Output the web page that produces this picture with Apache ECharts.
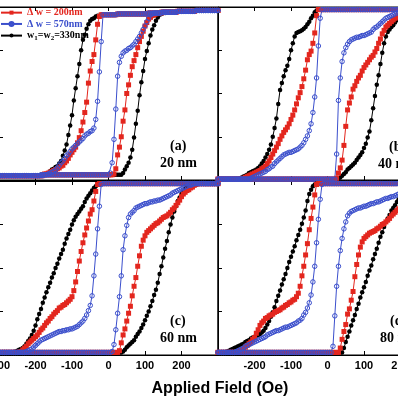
<!DOCTYPE html>
<html>
<head>
<meta charset="utf-8">
<script src="https://cdn.jsdelivr.net/npm/echarts/dist/echarts.min.js"></script>
<style>
html, body { margin: 0; padding: 0; background: #fff; }
#chart { width: 398px; height: 398px; }
</style>
</head>
<body>
<div id="chart"></div>
<script>
// 外加磁场 (Oe)，每 5 Oe 一个测量点
const FIELD = [
  -300,-295,-290,-285,-280,-275,-270,-265,-260,-255,-250,-245,-240,-235,-230,-225,-220,-215,-210,-205,
  -200,-195,-190,-185,-180,-175,-170,-165,-160,-155,-150,-145,-140,-135,-130,-125,-120,-115,-110,-105,
  -100,-95,-90,-85,-80,-75,-70,-65,-60,-55,-50,-45,-40,-35,-30,-25,-20,-15,-10,-5,
  0,5,10,15,20,25,30,35,40,45,50,55,60,65,70,75,80,85,90,95,
  100,105,110,115,120,125,130,135,140,145,150,155,160,165,170,175,180,185,190,195,
  200,205,210,215,220,225,230,235,240,245,250,255,260,265,270,275,280,285,290,295,300
];

const NAMES = ['Δ w = 200nm', 'Δ w = 570nm', 'w1=w2=330nm'];
const PANEL_TAGS = ['(a)', '(b)', '(c)', '(d)'];
const PANEL_THICK = ['20 nm', '40 nm', '60 nm', '80 nm'];

// ---- (a) 20 nm ----
const A_RED_DESC = [
  -0.95,-0.95,-0.95,-0.95,-0.95,-0.95,-0.95,-0.95,-0.95,-0.95,-0.95,-0.95,-0.95,-0.95,-0.95,-0.95,-0.95,-0.95,-0.95,-0.95,
  -0.95,-0.95,-0.95,-0.95,-0.94,-0.93,-0.93,-0.92,-0.91,-0.90,-0.89,-0.88,-0.87,-0.86,-0.84,-0.83,-0.80,-0.78,-0.75,-0.71,
  -0.68,-0.65,-0.62,-0.57,-0.51,-0.43,-0.33,-0.22,-0.10,0.12,0.26,0.37,0.45,0.62,0.80,0.89,0.91,0.91,0.91,0.91,
  0.91,0.91,0.91,0.91,0.91,0.92,0.92,0.92,0.92,0.92,0.92,0.92,0.92,0.92,0.92,0.92,0.92,0.92,0.92,0.92,
  0.92,0.92,0.93,0.93,0.93,0.93,0.93,0.93,0.93,0.93,0.94,0.94,0.94,0.94,0.94,0.94,0.94,0.94,0.95,0.95,
  0.95,0.95,0.95,0.95,0.95,0.95,0.95,0.95,0.96,0.96,0.96,0.96,0.96,0.96,0.96,0.96,0.96,0.96,0.96,0.96,0.96
];
const A_RED_ASC = [
  -0.95,-0.95,-0.95,-0.95,-0.95,-0.95,-0.95,-0.95,-0.95,-0.95,-0.95,-0.95,-0.95,-0.95,-0.95,-0.95,-0.95,-0.95,-0.95,-0.95,
  -0.95,-0.95,-0.95,-0.95,-0.95,-0.94,-0.94,-0.94,-0.94,-0.94,-0.94,-0.94,-0.94,-0.94,-0.94,-0.94,-0.94,-0.94,-0.94,-0.94,
  -0.94,-0.94,-0.94,-0.94,-0.94,-0.94,-0.94,-0.94,-0.94,-0.94,-0.94,-0.94,-0.94,-0.94,-0.94,-0.94,-0.94,-0.94,-0.94,-0.94,
  -0.94,-0.94,-0.94,-0.93,-0.87,-0.71,-0.62,-0.50,-0.32,-0.19,0.00,0.10,0.21,0.31,0.38,0.45,0.53,0.60,0.66,0.72,
  0.78,0.82,0.86,0.88,0.90,0.91,0.92,0.93,0.93,0.94,0.94,0.94,0.94,0.94,0.94,0.94,0.94,0.94,0.95,0.95,
  0.95,0.95,0.95,0.95,0.95,0.95,0.95,0.95,0.96,0.96,0.96,0.96,0.96,0.96,0.96,0.96,0.96,0.96,0.96,0.96,0.96
];
const A_BLUE_DESC = [
  -0.95,-0.95,-0.95,-0.95,-0.95,-0.95,-0.95,-0.95,-0.95,-0.95,-0.95,-0.95,-0.95,-0.95,-0.95,-0.95,-0.95,-0.95,-0.95,-0.95,
  -0.95,-0.95,-0.95,-0.94,-0.94,-0.94,-0.94,-0.93,-0.92,-0.91,-0.90,-0.88,-0.86,-0.83,-0.80,-0.78,-0.75,-0.72,-0.70,-0.67,
  -0.64,-0.62,-0.60,-0.58,-0.56,-0.54,-0.52,-0.49,-0.47,-0.46,-0.44,-0.43,-0.40,-0.30,-0.09,0.25,0.60,0.91,0.91,0.91,
  0.91,0.91,0.91,0.91,0.91,0.92,0.92,0.92,0.92,0.92,0.92,0.92,0.92,0.92,0.92,0.92,0.92,0.92,0.92,0.92,
  0.92,0.92,0.93,0.93,0.93,0.93,0.93,0.93,0.93,0.93,0.94,0.94,0.94,0.94,0.94,0.94,0.94,0.94,0.95,0.95,
  0.95,0.95,0.95,0.95,0.95,0.95,0.95,0.95,0.96,0.96,0.96,0.96,0.96,0.96,0.96,0.96,0.96,0.96,0.96,0.96,0.96
];
const A_BLUE_ASC = [
  -0.95,-0.95,-0.95,-0.95,-0.95,-0.95,-0.95,-0.95,-0.95,-0.95,-0.95,-0.95,-0.95,-0.95,-0.95,-0.95,-0.95,-0.95,-0.95,-0.95,
  -0.95,-0.95,-0.95,-0.95,-0.95,-0.94,-0.94,-0.94,-0.94,-0.94,-0.94,-0.94,-0.94,-0.94,-0.94,-0.94,-0.94,-0.94,-0.94,-0.94,
  -0.94,-0.94,-0.94,-0.94,-0.94,-0.94,-0.94,-0.94,-0.94,-0.94,-0.94,-0.94,-0.94,-0.94,-0.94,-0.94,-0.94,-0.94,-0.94,-0.94,
  -0.94,-0.92,-0.80,-0.53,-0.18,0.20,0.36,0.43,0.47,0.49,0.50,0.52,0.53,0.55,0.57,0.60,0.63,0.66,0.70,0.74,
  0.78,0.83,0.87,0.91,0.92,0.93,0.93,0.93,0.93,0.94,0.94,0.94,0.94,0.94,0.94,0.94,0.94,0.94,0.95,0.95,
  0.95,0.95,0.95,0.95,0.95,0.95,0.95,0.95,0.96,0.96,0.96,0.96,0.96,0.96,0.96,0.96,0.96,0.96,0.96,0.96,0.96
];
const A_BLACK_DESC = [
  -0.95,-0.95,-0.95,-0.95,-0.95,-0.95,-0.95,-0.95,-0.95,-0.95,-0.95,-0.95,-0.95,-0.95,-0.95,-0.95,-0.95,-0.95,-0.95,-0.95,
  -0.95,-0.95,-0.95,-0.94,-0.94,-0.94,-0.93,-0.92,-0.90,-0.88,-0.87,-0.85,-0.84,-0.81,-0.78,-0.72,-0.66,-0.59,-0.48,-0.37,
  -0.25,-0.08,0.06,0.20,0.34,0.50,0.62,0.68,0.75,0.80,0.84,0.86,0.87,0.89,0.90,0.90,0.91,0.91,0.91,0.91,
  0.91,0.91,0.91,0.91,0.91,0.92,0.92,0.92,0.92,0.92,0.92,0.92,0.92,0.92,0.92,0.92,0.92,0.92,0.92,0.92,
  0.92,0.92,0.93,0.93,0.93,0.93,0.93,0.93,0.93,0.93,0.94,0.94,0.94,0.94,0.94,0.94,0.94,0.94,0.95,0.95,
  0.95,0.95,0.95,0.95,0.95,0.95,0.95,0.95,0.96,0.96,0.96,0.96,0.96,0.96,0.96,0.96,0.96,0.96,0.96,0.96,0.96
];
const A_BLACK_ASC = [
  -0.95,-0.95,-0.95,-0.95,-0.95,-0.95,-0.95,-0.95,-0.95,-0.95,-0.95,-0.95,-0.95,-0.95,-0.95,-0.95,-0.95,-0.95,-0.95,-0.95,
  -0.95,-0.95,-0.95,-0.95,-0.95,-0.94,-0.94,-0.94,-0.94,-0.94,-0.94,-0.94,-0.94,-0.94,-0.94,-0.94,-0.94,-0.94,-0.94,-0.94,
  -0.94,-0.94,-0.94,-0.94,-0.94,-0.94,-0.94,-0.94,-0.94,-0.94,-0.94,-0.94,-0.94,-0.94,-0.94,-0.94,-0.94,-0.94,-0.94,-0.94,
  -0.94,-0.94,-0.94,-0.94,-0.94,-0.94,-0.94,-0.94,-0.92,-0.88,-0.84,-0.80,-0.74,-0.65,-0.51,-0.35,-0.20,-0.02,0.13,0.26,
  0.40,0.49,0.58,0.67,0.74,0.79,0.84,0.88,0.91,0.92,0.93,0.93,0.94,0.94,0.94,0.94,0.94,0.94,0.95,0.95,
  0.95,0.95,0.95,0.95,0.95,0.95,0.95,0.95,0.96,0.96,0.96,0.96,0.96,0.96,0.96,0.96,0.96,0.96,0.96,0.96,0.96
];

// ---- (b) 40 nm ----
const B_RED_DESC = [
  -0.99,-0.99,-0.99,-0.99,-0.99,-0.99,-0.99,-0.99,-0.99,-0.99,-0.99,-0.99,-0.99,-0.99,-0.98,-0.97,-0.96,-0.95,-0.94,-0.93,
  -0.92,-0.91,-0.90,-0.89,-0.87,-0.86,-0.84,-0.81,-0.78,-0.74,-0.70,-0.66,-0.62,-0.58,-0.53,-0.49,-0.45,-0.42,-0.39,-0.35,
  -0.30,-0.25,-0.19,-0.12,-0.05,0.01,0.08,0.17,0.27,0.39,0.45,0.49,0.58,0.70,0.90,0.97,0.97,0.97,0.97,0.97,
  0.97,0.97,0.97,0.97,0.97,0.97,0.97,0.97,0.97,0.97,0.97,0.97,0.97,0.97,0.97,0.97,0.97,0.97,0.97,0.97,
  0.97,0.97,0.97,0.97,0.97,0.97,0.97,0.97,0.97,0.97,0.97,0.97,0.97,0.97,0.97,0.97,0.97,0.97,0.97,0.97,
  0.97,0.97,0.97,0.97,0.97,0.97,0.97,0.97,0.97,0.97,0.97,0.97,0.97,0.97,0.97,0.97,0.97,0.97,0.97,0.97,0.97
];
const B_RED_ASC = [
  -0.99,-0.99,-0.99,-0.99,-0.99,-0.99,-0.99,-0.99,-0.99,-0.99,-0.99,-0.99,-0.99,-0.99,-0.99,-0.99,-0.99,-0.99,-0.99,-0.99,
  -0.99,-0.99,-0.99,-0.99,-0.99,-0.99,-0.99,-0.99,-0.99,-0.99,-0.99,-0.99,-0.99,-0.99,-0.99,-0.99,-0.99,-0.99,-0.99,-0.99,
  -0.99,-0.99,-0.99,-0.99,-0.99,-0.99,-0.99,-0.99,-0.99,-0.99,-0.99,-0.99,-0.99,-0.99,-0.99,-0.99,-0.99,-0.99,-0.99,-0.99,
  -0.99,-0.99,-0.99,-0.99,-0.99,-0.98,-0.92,-0.86,-0.77,-0.60,-0.38,-0.19,-0.11,-0.04,0.05,0.09,0.14,0.18,0.21,0.26,
  0.30,0.33,0.36,0.39,0.42,0.44,0.48,0.52,0.58,0.63,0.69,0.73,0.77,0.79,0.81,0.83,0.85,0.87,0.88,0.90,
  0.91,0.92,0.93,0.94,0.95,0.96,0.97,0.97,0.97,0.97,0.97,0.97,0.97,0.97,0.97,0.97,0.97,0.97,0.97,0.97,0.97
];
const B_BLUE_DESC = [
  -0.99,-0.99,-0.99,-0.99,-0.99,-0.99,-0.99,-0.99,-0.99,-0.99,-0.99,-0.99,-0.99,-0.99,-0.99,-0.99,-0.99,-0.99,-0.98,-0.97,
  -0.96,-0.95,-0.94,-0.93,-0.92,-0.91,-0.90,-0.88,-0.87,-0.85,-0.84,-0.81,-0.79,-0.77,-0.75,-0.73,-0.71,-0.70,-0.69,-0.68,
  -0.68,-0.67,-0.66,-0.65,-0.64,-0.62,-0.60,-0.57,-0.53,-0.49,-0.43,-0.35,-0.22,-0.04,0.18,0.55,0.87,0.97,0.97,0.97,
  0.97,0.97,0.97,0.97,0.97,0.97,0.97,0.97,0.97,0.97,0.97,0.97,0.97,0.97,0.97,0.97,0.97,0.97,0.97,0.97,
  0.97,0.97,0.97,0.97,0.97,0.97,0.97,0.97,0.97,0.97,0.97,0.97,0.97,0.97,0.97,0.97,0.97,0.97,0.97,0.97,
  0.97,0.97,0.97,0.97,0.97,0.97,0.97,0.97,0.97,0.97,0.97,0.97,0.97,0.97,0.97,0.97,0.97,0.97,0.97,0.97,0.97
];
const B_BLUE_ASC = [
  -0.99,-0.99,-0.99,-0.99,-0.99,-0.99,-0.99,-0.99,-0.99,-0.99,-0.99,-0.99,-0.99,-0.99,-0.99,-0.99,-0.99,-0.99,-0.99,-0.99,
  -0.99,-0.99,-0.99,-0.99,-0.99,-0.99,-0.99,-0.99,-0.99,-0.99,-0.99,-0.99,-0.99,-0.99,-0.99,-0.99,-0.99,-0.99,-0.99,-0.99,
  -0.99,-0.99,-0.99,-0.99,-0.99,-0.99,-0.99,-0.99,-0.99,-0.99,-0.99,-0.99,-0.99,-0.99,-0.99,-0.99,-0.99,-0.99,-0.99,-0.99,
  -0.99,-0.99,-0.99,-0.99,-0.99,-0.70,-0.08,0.18,0.37,0.47,0.53,0.57,0.60,0.62,0.63,0.64,0.65,0.65,0.66,0.67,
  0.67,0.68,0.69,0.70,0.71,0.74,0.76,0.77,0.79,0.81,0.83,0.85,0.87,0.88,0.89,0.90,0.91,0.92,0.93,0.94,
  0.95,0.96,0.97,0.97,0.97,0.97,0.97,0.97,0.97,0.97,0.97,0.97,0.97,0.97,0.97,0.97,0.97,0.97,0.97,0.97,0.97
];
const B_BLACK_DESC = [
  -0.99,-0.99,-0.99,-0.99,-0.99,-0.99,-0.99,-0.99,-0.99,-0.99,-0.99,-0.99,-0.98,-0.97,-0.96,-0.95,-0.94,-0.92,-0.91,-0.90,
  -0.89,-0.88,-0.86,-0.84,-0.81,-0.78,-0.74,-0.70,-0.65,-0.59,-0.50,-0.40,-0.29,-0.12,0.04,0.12,0.20,0.27,0.32,0.40,
  0.50,0.58,0.66,0.70,0.71,0.72,0.73,0.75,0.77,0.80,0.83,0.87,0.90,0.94,0.96,0.97,0.97,0.97,0.97,0.97,
  0.97,0.97,0.97,0.97,0.97,0.97,0.97,0.97,0.97,0.97,0.97,0.97,0.97,0.97,0.97,0.97,0.97,0.97,0.97,0.97,
  0.97,0.97,0.97,0.97,0.97,0.97,0.97,0.97,0.97,0.97,0.97,0.97,0.97,0.97,0.97,0.97,0.97,0.97,0.97,0.97,
  0.97,0.97,0.97,0.97,0.97,0.97,0.97,0.97,0.97,0.97,0.97,0.97,0.97,0.97,0.97,0.97,0.97,0.97,0.97,0.97,0.97
];
const B_BLACK_ASC = [
  -0.99,-0.99,-0.99,-0.99,-0.99,-0.99,-0.99,-0.99,-0.99,-0.99,-0.99,-0.99,-0.99,-0.99,-0.99,-0.99,-0.99,-0.99,-0.99,-0.99,
  -0.99,-0.99,-0.99,-0.99,-0.99,-0.99,-0.99,-0.99,-0.99,-0.99,-0.99,-0.99,-0.99,-0.99,-0.99,-0.99,-0.99,-0.99,-0.99,-0.99,
  -0.99,-0.99,-0.99,-0.99,-0.99,-0.99,-0.99,-0.99,-0.99,-0.99,-0.99,-0.99,-0.99,-0.99,-0.99,-0.99,-0.99,-0.99,-0.99,-0.99,
  -0.99,-0.99,-0.99,-0.99,-0.99,-0.99,-0.98,-0.97,-0.95,-0.93,-0.91,-0.88,-0.86,-0.84,-0.82,-0.80,-0.77,-0.74,-0.71,-0.68,
  -0.63,-0.58,-0.51,-0.44,-0.31,-0.17,-0.03,0.10,0.21,0.34,0.47,0.58,0.66,0.71,0.74,0.77,0.79,0.82,0.85,0.88,
  0.90,0.92,0.94,0.95,0.96,0.97,0.97,0.97,0.97,0.97,0.97,0.97,0.97,0.97,0.97,0.97,0.97,0.97,0.97,0.97,0.97
];

// ---- (c) 60 nm ----
const C_RED_DESC = [
  -0.97,-0.97,-0.97,-0.97,-0.97,-0.97,-0.97,-0.97,-0.97,-0.97,-0.97,-0.97,-0.96,-0.94,-0.92,-0.90,-0.87,-0.85,-0.83,-0.81,
  -0.79,-0.77,-0.74,-0.71,-0.69,-0.66,-0.63,-0.61,-0.58,-0.56,-0.53,-0.51,-0.49,-0.46,-0.45,-0.43,-0.42,-0.40,-0.38,-0.36,
  -0.33,-0.26,-0.16,-0.04,0.08,0.19,0.29,0.38,0.46,0.54,0.62,0.67,0.77,0.88,0.96,0.97,0.97,0.97,0.97,0.97,
  0.97,0.97,0.97,0.97,0.97,0.97,0.97,0.97,0.97,0.97,0.97,0.97,0.97,0.97,0.97,0.97,0.97,0.97,0.97,0.97,
  0.97,0.97,0.97,0.97,0.97,0.97,0.97,0.97,0.97,0.97,0.97,0.97,0.97,0.97,0.97,0.97,0.97,0.97,0.97,0.97,
  0.97,0.97,0.97,0.97,0.97,0.97,0.97,0.97,0.97,0.97,0.97,0.97,0.97,0.97,0.97,0.97,0.97,0.97,0.97,0.97,0.97
];
const C_RED_ASC = [
  -0.97,-0.97,-0.97,-0.97,-0.97,-0.97,-0.97,-0.97,-0.97,-0.97,-0.97,-0.97,-0.97,-0.97,-0.97,-0.97,-0.97,-0.97,-0.97,-0.97,
  -0.97,-0.97,-0.97,-0.97,-0.97,-0.97,-0.97,-0.97,-0.97,-0.97,-0.97,-0.97,-0.97,-0.97,-0.97,-0.97,-0.97,-0.97,-0.97,-0.97,
  -0.97,-0.97,-0.97,-0.97,-0.97,-0.97,-0.97,-0.97,-0.97,-0.97,-0.97,-0.97,-0.97,-0.97,-0.97,-0.97,-0.97,-0.97,-0.97,-0.97,
  -0.97,-0.97,-0.97,-0.97,-0.97,-0.97,-0.95,-0.86,-0.77,-0.70,-0.61,-0.52,-0.44,-0.32,-0.21,-0.11,0.02,0.14,0.25,0.32,
  0.37,0.41,0.43,0.45,0.47,0.49,0.51,0.52,0.54,0.56,0.58,0.59,0.60,0.62,0.64,0.67,0.69,0.72,0.75,0.78,
  0.82,0.85,0.87,0.89,0.90,0.92,0.93,0.95,0.96,0.97,0.97,0.97,0.97,0.97,0.97,0.97,0.97,0.97,0.97,0.97,0.97
];
const C_BLUE_DESC = [
  -0.97,-0.97,-0.97,-0.97,-0.97,-0.97,-0.97,-0.97,-0.97,-0.97,-0.97,-0.97,-0.97,-0.97,-0.97,-0.96,-0.95,-0.94,-0.93,-0.91,
  -0.89,-0.87,-0.85,-0.83,-0.82,-0.81,-0.80,-0.79,-0.78,-0.77,-0.76,-0.75,-0.74,-0.73,-0.73,-0.72,-0.72,-0.71,-0.71,-0.70,
  -0.70,-0.69,-0.68,-0.67,-0.65,-0.63,-0.61,-0.58,-0.54,-0.49,-0.43,-0.32,-0.09,0.16,0.45,0.71,0.96,0.97,0.97,0.97,
  0.97,0.97,0.97,0.97,0.97,0.97,0.97,0.97,0.97,0.97,0.97,0.97,0.97,0.97,0.97,0.97,0.97,0.97,0.97,0.97,
  0.97,0.97,0.97,0.97,0.97,0.97,0.97,0.97,0.97,0.97,0.97,0.97,0.97,0.97,0.97,0.97,0.97,0.97,0.97,0.97,
  0.97,0.97,0.97,0.97,0.97,0.97,0.97,0.97,0.97,0.97,0.97,0.97,0.97,0.97,0.97,0.97,0.97,0.97,0.97,0.97,0.97
];
const C_BLUE_ASC = [
  -0.97,-0.97,-0.97,-0.97,-0.97,-0.97,-0.97,-0.97,-0.97,-0.97,-0.97,-0.97,-0.97,-0.97,-0.97,-0.97,-0.97,-0.97,-0.97,-0.97,
  -0.97,-0.97,-0.97,-0.97,-0.97,-0.97,-0.97,-0.97,-0.97,-0.97,-0.97,-0.97,-0.97,-0.97,-0.97,-0.97,-0.97,-0.97,-0.97,-0.97,
  -0.97,-0.97,-0.97,-0.97,-0.97,-0.97,-0.97,-0.97,-0.97,-0.97,-0.97,-0.97,-0.97,-0.97,-0.97,-0.97,-0.97,-0.97,-0.97,-0.97,
  -0.97,-0.97,-0.96,-0.88,-0.71,-0.52,-0.33,-0.09,0.21,0.37,0.49,0.58,0.62,0.64,0.66,0.69,0.70,0.71,0.72,0.73,
  0.74,0.74,0.75,0.76,0.76,0.77,0.77,0.78,0.78,0.79,0.80,0.81,0.82,0.83,0.84,0.86,0.87,0.88,0.89,0.90,
  0.91,0.92,0.93,0.94,0.95,0.95,0.96,0.97,0.97,0.97,0.97,0.97,0.97,0.97,0.97,0.97,0.97,0.97,0.97,0.97,0.97
];
const C_BLACK_DESC = [
  -0.97,-0.97,-0.97,-0.97,-0.97,-0.97,-0.97,-0.97,-0.97,-0.96,-0.95,-0.94,-0.93,-0.92,-0.90,-0.87,-0.84,-0.81,-0.77,-0.72,
  -0.66,-0.59,-0.53,-0.47,-0.40,-0.34,-0.28,-0.22,-0.17,-0.11,-0.06,0.00,0.05,0.11,0.16,0.21,0.28,0.34,0.39,0.44,
  0.50,0.55,0.59,0.62,0.65,0.68,0.71,0.76,0.80,0.83,0.86,0.89,0.92,0.94,0.96,0.97,0.97,0.97,0.97,0.97,
  0.97,0.97,0.97,0.97,0.97,0.97,0.97,0.97,0.97,0.97,0.97,0.97,0.97,0.97,0.97,0.97,0.97,0.97,0.97,0.97,
  0.97,0.97,0.97,0.97,0.97,0.97,0.97,0.97,0.97,0.97,0.97,0.97,0.97,0.97,0.97,0.97,0.97,0.97,0.97,0.97,
  0.97,0.97,0.97,0.97,0.97,0.97,0.97,0.97,0.97,0.97,0.97,0.97,0.97,0.97,0.97,0.97,0.97,0.97,0.97,0.97,0.97
];
const C_BLACK_ASC = [
  -0.97,-0.97,-0.97,-0.97,-0.97,-0.97,-0.97,-0.97,-0.97,-0.97,-0.97,-0.97,-0.97,-0.97,-0.97,-0.97,-0.97,-0.97,-0.97,-0.97,
  -0.97,-0.97,-0.97,-0.97,-0.97,-0.97,-0.97,-0.97,-0.97,-0.97,-0.97,-0.97,-0.97,-0.97,-0.97,-0.97,-0.97,-0.97,-0.97,-0.97,
  -0.97,-0.97,-0.97,-0.97,-0.97,-0.97,-0.97,-0.97,-0.97,-0.97,-0.97,-0.97,-0.97,-0.97,-0.97,-0.97,-0.97,-0.97,-0.97,-0.97,
  -0.97,-0.97,-0.97,-0.97,-0.97,-0.97,-0.97,-0.97,-0.96,-0.94,-0.91,-0.89,-0.87,-0.85,-0.83,-0.79,-0.76,-0.73,-0.69,-0.65,
  -0.60,-0.55,-0.50,-0.44,-0.38,-0.31,-0.25,-0.17,-0.07,0.02,0.12,0.22,0.31,0.41,0.50,0.58,0.65,0.71,0.77,0.81,
  0.85,0.88,0.91,0.93,0.94,0.95,0.96,0.97,0.97,0.97,0.97,0.97,0.97,0.97,0.97,0.97,0.97,0.97,0.97,0.97,0.97
];

// ---- (d) 80 nm ----
const D_RED_DESC = [
  -0.97,-0.97,-0.97,-0.97,-0.97,-0.97,-0.97,-0.97,-0.97,-0.97,-0.97,-0.96,-0.95,-0.94,-0.93,-0.91,-0.89,-0.87,-0.85,-0.82,
  -0.80,-0.75,-0.71,-0.66,-0.63,-0.61,-0.58,-0.57,-0.55,-0.54,-0.53,-0.51,-0.50,-0.49,-0.48,-0.46,-0.45,-0.43,-0.42,-0.40,
  -0.39,-0.37,-0.36,-0.33,-0.29,-0.21,-0.09,0.02,0.15,0.28,0.44,0.57,0.70,0.84,0.96,0.97,0.97,0.97,0.97,0.97,
  0.97,0.97,0.97,0.97,0.97,0.97,0.97,0.97,0.97,0.97,0.97,0.97,0.97,0.97,0.97,0.97,0.97,0.97,0.97,0.97,
  0.97,0.97,0.97,0.97,0.97,0.97,0.97,0.97,0.97,0.97,0.97,0.97,0.97,0.97,0.97,0.97,0.97,0.97,0.97,0.97,
  0.97,0.97,0.97,0.97,0.97,0.97,0.97,0.97,0.97,0.97,0.97,0.97,0.97,0.97,0.97,0.97,0.97,0.97,0.97,0.97,0.97
];
const D_RED_ASC = [
  -0.97,-0.97,-0.97,-0.97,-0.97,-0.97,-0.97,-0.97,-0.97,-0.97,-0.97,-0.97,-0.97,-0.97,-0.97,-0.97,-0.97,-0.97,-0.97,-0.97,
  -0.97,-0.97,-0.97,-0.97,-0.97,-0.97,-0.97,-0.97,-0.97,-0.97,-0.97,-0.97,-0.97,-0.97,-0.97,-0.97,-0.97,-0.97,-0.97,-0.97,
  -0.97,-0.97,-0.97,-0.97,-0.97,-0.97,-0.97,-0.97,-0.97,-0.97,-0.97,-0.97,-0.97,-0.97,-0.97,-0.97,-0.97,-0.97,-0.97,-0.97,
  -0.97,-0.97,-0.97,-0.97,-0.97,-0.97,-0.97,-0.92,-0.82,-0.73,-0.65,-0.53,-0.47,-0.37,-0.27,-0.10,0.04,0.15,0.24,0.30,
  0.34,0.36,0.38,0.40,0.41,0.42,0.43,0.45,0.46,0.48,0.50,0.51,0.53,0.55,0.57,0.60,0.62,0.64,0.66,0.68,
  0.71,0.74,0.77,0.80,0.83,0.86,0.89,0.91,0.93,0.95,0.96,0.97,0.97,0.97,0.97,0.97,0.97,0.97,0.97,0.97,0.97
];
const D_BLUE_DESC = [
  -0.97,-0.97,-0.97,-0.97,-0.97,-0.97,-0.97,-0.97,-0.97,-0.97,-0.96,-0.95,-0.94,-0.93,-0.92,-0.90,-0.89,-0.88,-0.87,-0.86,
  -0.85,-0.84,-0.83,-0.82,-0.81,-0.80,-0.79,-0.77,-0.76,-0.75,-0.74,-0.73,-0.72,-0.72,-0.71,-0.70,-0.69,-0.68,-0.68,-0.67,
  -0.66,-0.65,-0.64,-0.63,-0.61,-0.60,-0.58,-0.54,-0.51,-0.46,-0.40,-0.31,-0.16,0.02,0.29,0.56,0.79,0.96,0.97,0.97,
  0.97,0.97,0.97,0.97,0.97,0.97,0.97,0.97,0.97,0.97,0.97,0.97,0.97,0.97,0.97,0.97,0.97,0.97,0.97,0.97,
  0.97,0.97,0.97,0.97,0.97,0.97,0.97,0.97,0.97,0.97,0.97,0.97,0.97,0.97,0.97,0.97,0.97,0.97,0.97,0.97,
  0.97,0.97,0.97,0.97,0.97,0.97,0.97,0.97,0.97,0.97,0.97,0.97,0.97,0.97,0.97,0.97,0.97,0.97,0.97,0.97,0.97
];
const D_BLUE_ASC = [
  -0.97,-0.97,-0.97,-0.97,-0.97,-0.97,-0.97,-0.97,-0.97,-0.97,-0.97,-0.97,-0.97,-0.97,-0.97,-0.97,-0.97,-0.97,-0.97,-0.97,
  -0.97,-0.97,-0.97,-0.97,-0.97,-0.97,-0.97,-0.97,-0.97,-0.97,-0.97,-0.97,-0.97,-0.97,-0.97,-0.97,-0.97,-0.97,-0.97,-0.97,
  -0.97,-0.97,-0.97,-0.97,-0.97,-0.97,-0.97,-0.97,-0.97,-0.97,-0.97,-0.97,-0.97,-0.97,-0.97,-0.97,-0.97,-0.97,-0.97,-0.97,
  -0.97,-0.97,-0.97,-0.90,-0.55,-0.21,0.02,0.20,0.34,0.45,0.53,0.60,0.63,0.65,0.66,0.67,0.68,0.69,0.69,0.70,
  0.71,0.71,0.72,0.73,0.74,0.74,0.75,0.76,0.76,0.77,0.78,0.79,0.80,0.80,0.81,0.82,0.82,0.83,0.84,0.85,
  0.87,0.88,0.89,0.90,0.91,0.92,0.93,0.94,0.95,0.96,0.97,0.97,0.97,0.97,0.97,0.97,0.97,0.97,0.97,0.97,0.97
];
const D_BLACK_DESC = [
  -0.97,-0.97,-0.97,-0.97,-0.97,-0.96,-0.95,-0.94,-0.93,-0.92,-0.91,-0.90,-0.89,-0.88,-0.87,-0.85,-0.84,-0.83,-0.81,-0.80,
  -0.79,-0.78,-0.77,-0.76,-0.74,-0.72,-0.69,-0.65,-0.61,-0.56,-0.51,-0.45,-0.38,-0.32,-0.26,-0.19,-0.13,-0.07,0.00,0.07,
  0.13,0.19,0.25,0.32,0.38,0.44,0.51,0.58,0.66,0.77,0.85,0.90,0.94,0.96,0.97,0.97,0.97,0.97,0.97,0.97,
  0.97,0.97,0.97,0.97,0.97,0.97,0.97,0.97,0.97,0.97,0.97,0.97,0.97,0.97,0.97,0.97,0.97,0.97,0.97,0.97,
  0.97,0.97,0.97,0.97,0.97,0.97,0.97,0.97,0.97,0.97,0.97,0.97,0.97,0.97,0.97,0.97,0.97,0.97,0.97,0.97,
  0.97,0.97,0.97,0.97,0.97,0.97,0.97,0.97,0.97,0.97,0.97,0.97,0.97,0.97,0.97,0.97,0.97,0.97,0.97,0.97,0.97
];
const D_BLACK_ASC = [
  -0.97,-0.97,-0.97,-0.97,-0.97,-0.97,-0.97,-0.97,-0.97,-0.97,-0.97,-0.97,-0.97,-0.97,-0.97,-0.97,-0.97,-0.97,-0.97,-0.97,
  -0.97,-0.97,-0.97,-0.97,-0.97,-0.97,-0.97,-0.97,-0.97,-0.97,-0.97,-0.97,-0.97,-0.97,-0.97,-0.97,-0.97,-0.97,-0.97,-0.97,
  -0.97,-0.97,-0.97,-0.97,-0.97,-0.97,-0.97,-0.97,-0.97,-0.97,-0.97,-0.97,-0.97,-0.97,-0.97,-0.97,-0.97,-0.97,-0.97,-0.97,
  -0.97,-0.97,-0.97,-0.97,-0.97,-0.97,-0.97,-0.97,-0.97,-0.92,-0.85,-0.79,-0.73,-0.66,-0.60,-0.54,-0.47,-0.41,-0.34,-0.28,
  -0.22,-0.16,-0.09,-0.03,0.03,0.10,0.16,0.22,0.29,0.36,0.41,0.47,0.53,0.57,0.61,0.66,0.69,0.72,0.76,0.79,
  0.82,0.85,0.87,0.89,0.91,0.93,0.94,0.95,0.96,0.97,0.97,0.97,0.97,0.97,0.97,0.97,0.97,0.97,0.97,0.97,0.97
];

const RED = '#e3261e';
const BLUE = '#3b4fcc';
const BLACK = '#000000';

// 每个面板: [黑, 红, 蓝] 的 [下降支, 上升支]
const PANELS = [
  { black: [A_BLACK_DESC, A_BLACK_ASC], red: [A_RED_DESC, A_RED_ASC], blue: [A_BLUE_DESC, A_BLUE_ASC] },
  { black: [B_BLACK_DESC, B_BLACK_ASC], red: [B_RED_DESC, B_RED_ASC], blue: [B_BLUE_DESC, B_BLUE_ASC] },
  { black: [C_BLACK_DESC, C_BLACK_ASC], red: [C_RED_DESC, C_RED_ASC], blue: [C_BLUE_DESC, C_BLUE_ASC] },
  { black: [D_BLACK_DESC, D_BLACK_ASC], red: [D_RED_DESC, D_RED_ASC], blue: [D_BLUE_DESC, D_BLUE_ASC] }
];

const GRIDS = [
  { left: -1, top: 7, width: 219, height: 173 },
  { left: 218, top: 7, width: 219, height: 173 },
  { left: -1, top: 181, width: 219, height: 174 },
  { left: 218, top: 181, width: 219, height: 174 }
];

function makeBranch(name, gi, vals, kind) {
  const s = {
    type: 'line',
    name: name,
    xAxisIndex: gi,
    yAxisIndex: gi,
    data: FIELD.map((h, i) => [h, vals[i]]),
    showAllSymbol: true,
    animation: false,
    lineStyle: { width: 1 }
  };
  if (kind === 'red') {
    s.symbol = 'rect';
    s.symbolSize = 5;
    s.itemStyle = { color: RED };
    s.lineStyle.color = RED;
  } else if (kind === 'blue') {
    s.symbol = 'circle';
    s.symbolSize = 4.5;
    s.itemStyle = { color: 'rgba(0,0,0,0)', borderColor: BLUE, borderWidth: 1 };
    s.lineStyle.color = BLUE;
  } else {
    s.symbol = 'circle';
    s.symbolSize = 4.5;
    s.itemStyle = { color: BLACK };
    s.lineStyle.color = BLACK;
  }
  return s;
}

const series = [];
PANELS.forEach((p, gi) => {
  p.black.forEach(v => series.push(makeBranch(NAMES[2], gi, v, 'black')));
  p.red.forEach(v => series.push(makeBranch(NAMES[0], gi, v, 'red')));
  p.blue.forEach(v => series.push(makeBranch(NAMES[1], gi, v, 'blue')));
});

const tickStyle = { show: true, inside: true, length: 4, lineStyle: { color: '#000', width: 1 } };
const lineStyle = { show: true, onZero: false, lineStyle: { color: '#000', width: 1 } };

const xAxes = [];
const yAxes = [];
GRIDS.forEach((g, gi) => {
  const bottomRow = gi >= 2;
  xAxes.push({
    type: 'value', gridIndex: gi, position: 'bottom', min: -300, max: 300, interval: 100,
    axisLine: lineStyle, axisTick: tickStyle, splitLine: { show: false },
    axisLabel: {
      show: bottomRow, margin: 5, color: '#000', fontSize: 11, fontWeight: 'bold',
      fontFamily: 'Liberation Sans',
      showMinLabel: gi === 2, showMaxLabel: false
    }
  });
  yAxes.push({
    type: 'value', gridIndex: gi, min: -1, max: 1, interval: 0.5,
    axisLine: lineStyle, axisTick: tickStyle, splitLine: { show: false },
    axisLabel: { show: false }
  });
});
// 上边框的刻度
GRIDS.forEach((g, gi) => {
  xAxes.push({
    type: 'value', gridIndex: gi, position: 'top', min: -300, max: 300, interval: 100,
    axisLine: lineStyle, axisTick: tickStyle, splitLine: { show: false },
    axisLabel: { show: false }
  });
});

const serif = 'bold 14px "Liberation Serif", "Times New Roman", serif';
const labelPos = [
  [170, 146, 160, 163],
  [389, 147, 378, 164],
  [170, 321, 160, 338],
  [390, 321, 380, 338]
];
const graphics = [];
labelPos.forEach((lp, i) => {
  graphics.push({ type: 'text', x: lp[0], y: lp[1], style: { text: PANEL_TAGS[i], font: serif, fill: '#000', textAlign: 'left', textVerticalAlign: 'middle' } });
  graphics.push({ type: 'text', x: lp[2], y: lp[3], style: { text: PANEL_THICK[i], font: serif, fill: '#000', textAlign: 'left', textVerticalAlign: 'middle' } });
});
graphics.push({
  type: 'text', x: 220, y: 389,
  style: { text: 'Applied Field (Oe)', font: 'bold 16px "Liberation Sans", Arial, sans-serif', fill: '#000', textAlign: 'center', textVerticalAlign: 'middle' }
});

const chart = echarts.init(document.getElementById('chart'), null, { renderer: 'canvas' });
chart.setOption({
  animation: false,
  backgroundColor: '#fff',
  grid: GRIDS.map(g => Object.assign({ show: true, borderColor: '#000', borderWidth: 1, containLabel: false, outerBoundsMode: 'none' }, g)),
  xAxis: xAxes,
  yAxis: yAxes,
  legend: {
    orient: 'vertical', left: 0, top: 7, padding: 0, itemGap: 0,
    itemWidth: 21, itemHeight: 5, selectedMode: false,
    data: [
      { name: NAMES[0], textStyle: { color: RED } },
      { name: NAMES[1], textStyle: { color: BLUE } },
      { name: NAMES[2], textStyle: { color: BLACK } }
    ],
    formatter: function (name) {
      if (name === NAMES[2]) return '{t|w}{s|1}{t|=w}{s|2}{t|=330nm}';
      return name;
    },
    textStyle: {
      fontFamily: 'Liberation Serif', fontWeight: 'bold', fontSize: 10, lineHeight: 11.3,
      rich: {
        t: { fontFamily: 'Liberation Serif', fontWeight: 'bold', fontSize: 10, color: '#000', lineHeight: 11.3 },
        s: { fontFamily: 'Liberation Serif', fontWeight: 'bold', fontSize: 7, color: '#000', lineHeight: 11.3, padding: [5, 0, 0, 0] }
      }
    }
  },
  graphic: graphics,
  series: series
});
</script>
</body>
</html>
